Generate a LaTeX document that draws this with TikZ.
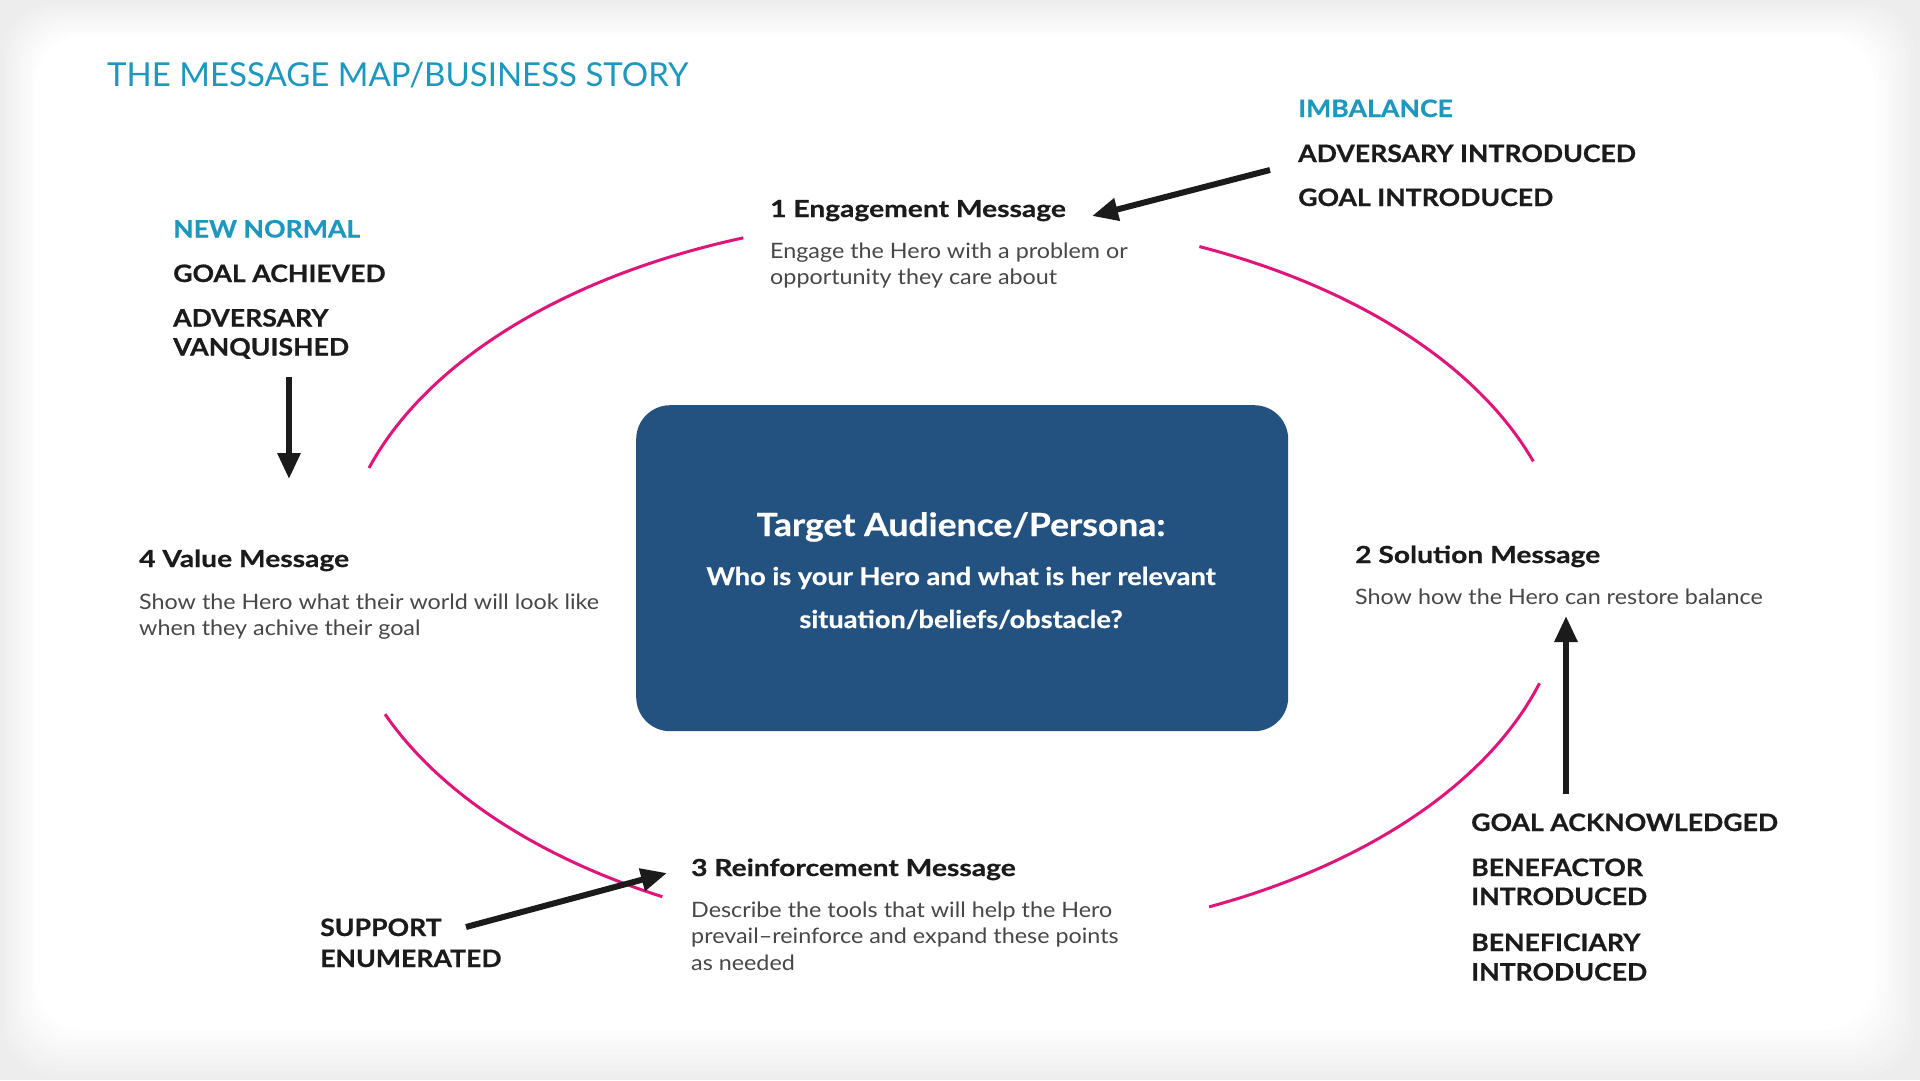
\documentclass[tikz,border=0pt]{standalone}
\usepackage{fontspec}
\setmainfont{Lato}
\newfontfamily\wf[FakeStretch=1.1]{Lato}
\newfontfamily\wfb[FakeStretch=1.11,FakeBold=0.6]{Lato}
\newfontfamily\hfb[FakeStretch=1.2,FakeBold=0.6]{Lato}
\usetikzlibrary{arrows.meta}
\definecolor{myteal}{HTML}{1C98BF}
\definecolor{ink}{HTML}{1B1B1B}
\definecolor{desc}{HTML}{474747}
\definecolor{boxblue}{HTML}{235281}
\definecolor{arcpink}{HTML}{E0157A}
\begin{document}
\begin{tikzpicture}[x=1pt,y=-1pt,
  lab/.style={anchor=base west, inner sep=0pt, text=ink, font=\wfb\bfseries\fontsize{24}{30}\selectfont},
  tlab/.style={lab, text=myteal},
  head/.style={anchor=base west, inner sep=0pt, text=ink, font=\hfb\bfseries\fontsize{23.5}{28}\selectfont},
  dsc/.style={anchor=base west, inner sep=0pt, text=desc, font=\wf\fontsize{21.2}{26}\selectfont},
  boxtxt/.style={anchor=base, inner sep=0pt, text=white, font=\wfb\bfseries\fontsize{24.5}{30}\selectfont},
  bigarrow/.style={draw=ink, line width=6pt, -{Triangle[length=26pt,width=22pt]}},
  pinkarc/.style={draw=arcpink, line width=3pt},
]
\useasboundingbox (0,0) rectangle (1920,1080);
% background vignette
\fill[black!7] (0,0) rectangle (1920,1080);
\foreach \i in {1,...,10}{
  \pgfmathsetmacro{\pc}{7*(1-\i/10)}
  \fill[black!\pc, rounded corners=50pt] (3.5*\i,3.5*\i) rectangle (1920-4.5*\i,1080-5*\i);
}
% title
\node[anchor=base west, inner sep=0pt, text=myteal, font=\fontsize{33}{40}\selectfont] (title) at (107,86) {THE MESSAGE MAP/BUSINESS STORY};

% central box
\node[fill=boxblue, rounded corners=34pt, minimum width=652pt, minimum height=326pt, anchor=north west, inner sep=0pt] (box) at (636,405) {};
\node[boxtxt, font=\wfb\bfseries\fontsize{32}{38}\selectfont] (persona) at (961,536) {Target Audience/Persona:};
\node[boxtxt] (who1) at (961,585) {Who is your Hero and what is her relevant};
\node[boxtxt] (who2) at (961,628) {situation/beliefs/obstacle?};

% pink arcs (ellipse segments)
\draw[pinkarc] plot[domain=110:162.3, samples=60] ({953+613*cos(\x)}, {578-362*sin(\x)});
\draw[pinkarc] plot[domain=18.8:66.3, samples=60] ({953+613*cos(\x)}, {578-362*sin(\x)});
\draw[pinkarc] plot[domain=-65.3:-16.9, samples=60] ({953+613*cos(\x)}, {578-362*sin(\x)});
\draw[pinkarc] plot[domain=202.1:241.7, samples=60] ({953+613*cos(\x)}, {578-362*sin(\x)});

% 1 Engagement
\node[head] (eng) at (770,217) {1 Engagement Message};
\node[dsc] (engd1) at (770,258) {Engage the Hero with a problem or};
\node[dsc] (engd2) at (770,284.5) {opportunity they care about};

% Imbalance block
\node[tlab] (imb) at (1298,117) {IMBALANCE};
\node[lab] (advi) at (1298,162) {ADVERSARY INTRODUCED};
\node[lab] (goali) at (1298,206) {GOAL INTRODUCED};
\coordinate (imbA) at (1270,170);
\coordinate (engA) at (1092,216);
\draw[bigarrow] (imbA) -- (engA);

% New normal block
\node[tlab] (newn) at (173,237.5) {NEW NORMAL};
\node[lab] (goalach) at (173,282) {GOAL ACHIEVED};
\node[lab] (adv1) at (173,326.5) {ADVERSARY};
\node[lab] (adv2) at (173,355.5) {VANQUISHED};
\coordinate (nnA) at (289,377);
\coordinate (valA) at (289,479);
\draw[bigarrow] (nnA) -- (valA);

% 4 Value
\node[head] (val) at (139,567) {4 Value Message};
\node[dsc] (vald1) at (139,609) {Show the Hero what their world will look like};
\node[dsc] (vald2) at (139,635.5) {when they achive their goal};

% 2 Solution
\node[head] (sol) at (1355,563) {2 Solution Message};
\node[dsc] (sold1) at (1355,604) {Show how the Hero can restore balance};

% Goal acknowledged block
\node[lab] (gack) at (1471,831) {GOAL ACKNOWLEDGED};
\node[lab] (bene1) at (1471,876) {BENEFACTOR};
\node[lab] (bene2) at (1471,905) {INTRODUCED};
\node[lab] (benf1) at (1471,951) {BENEFICIARY};
\node[lab] (benf2) at (1471,980.5) {INTRODUCED};
\coordinate (gaA) at (1566,794);
\coordinate (solA) at (1566,616);
\draw[bigarrow] (gaA) -- (solA);

% 3 Reinforcement
\node[head] (rein) at (691,876) {3 Reinforcement Message};
\node[dsc] (reind1) at (691,917) {Describe the tools that will help the Hero};
\node[dsc] (reind2) at (691,943.5) {prevail\textendash reinforce and expand these points};
\node[dsc] (reind3) at (691,970) {as needed};

% Support
\node[lab] (sup1) at (320,936) {SUPPORT};
\node[lab] (sup2) at (320,967) {ENUMERATED};
\coordinate (supA) at (466,927);
\coordinate (reinA) at (667,873);
\draw[bigarrow] (supA) -- (reinA);
\end{tikzpicture}
\end{document}
